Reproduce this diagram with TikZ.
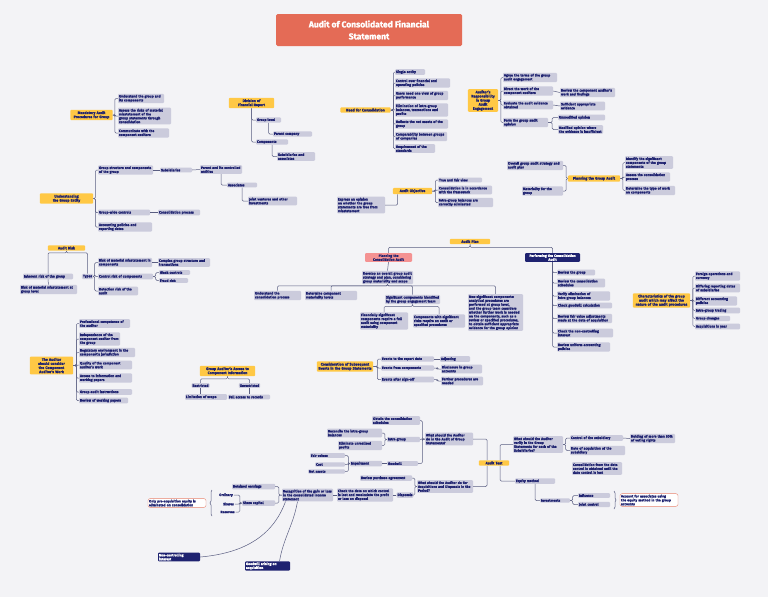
\documentclass[tikz,border=0pt]{standalone}
\usepackage{fontspec}
\setmainfont{Fira Sans}[BoldFeatures={FakeBold=1.5}]
\usetikzlibrary{decorations.pathreplacing}
\definecolor{bgGray}{HTML}{F3F3F6}
\definecolor{navyInk}{HTML}{1E2270}
\definecolor{leafGray}{HTML}{CBCBDC}
\definecolor{topicYellow}{HTML}{FFC845}
\definecolor{titleRed}{HTML}{E46B56}
\definecolor{pinkFill}{HTML}{F49292}
\definecolor{lineGray}{HTML}{5A5E82}
\definecolor{redEdge}{HTML}{E88470}
\newcommand\nohyph{\hyphenpenalty=10000\exhyphenpenalty=10000}

\begin{document}
\begin{tikzpicture}
        [x=1pt, y=-1pt,
        titleBox/.style={fill=titleRed, text=white, rounded corners=1.5pt, font=\fontsize{8.5}{12}\selectfont\bfseries, align=center, minimum width=186pt, minimum height=32pt},
        topic/.style={fill=topicYellow, text=navyInk, rounded corners=1pt, inner sep=1.2pt, font=\fontsize{3.6}{4.1}\selectfont\bfseries\nohyph, align=center},
        leaf/.style={fill=leafGray, text=navyInk, rounded corners=1pt, inner sep=1pt, font=\fontsize{3.4}{3.9}\selectfont\bfseries\nohyph, align=left},
        leafNavy/.style={leaf, fill=navyInk, text=white},
        leafPink/.style={leaf, fill=pinkFill, align=center},
        leafRed/.style={leaf, fill=white, draw=redEdge, line width=0.4pt, rounded corners=2pt},
        leafPlain/.style={leaf, fill=none},
        tw/.style={text width=#1pt},
        link/.style={draw=lineGray, line width=0.5pt, rounded corners=1.2pt},
        curly/.style={draw=lineGray, line width=0.5pt, decorate, decoration={brace, amplitude=2pt}}]
        \fill[bgGray] (0,0) rectangle (768,597);
        \useasboundingbox (0,0) rectangle (768,597);

        \node[titleBox] (title) at (369,30) {Audit of Consolidated Financial\\Statement};

        % mandatory procedures
        \node[topic, tw=40] (tA) at (91.5,115) {Mandatory Audit Procedures for Group};
        \node[leaf, tw=44] (a1) at (141,98.5) {Understand the group and its components};
        \node[leaf, tw=51] (a2) at (144.5,116) {Assess the risks of material misstatement of the group statements through consolidation};
        \node[leaf, tw=49] (a3) at (143.5,133) {Communicate with the component auditors};
        \foreach \c in {a1,a2,a3} \draw[link] (tA.east) -- ++(2,0) |- (\c.west);

        % division of report
        \node[topic, tw=43] (tB) at (251.5,103) {Division of Financial Report};
        \node[leaf, tw=23] (b1) at (268.5,120) {Group level};
        \node[leaf, tw=37] (b2) at (292.5,134) {Parent company};
        \node[leaf, tw=30] (b3) at (272,142) {Components};
        \node[leaf, tw=36] (b4) at (296,156.5) {Subsidiaries and associates};
        \draw[link] (tB.south) |- (b1.west);
        \draw[link] (tB.south) |- (b3.west);
        \draw[link] (b1.south) |- (b2.west);
        \draw[link] (b3.south) |- (b4.west);

        % reasons
        \node[topic, tw=48] (tC) at (365.5,110) {Need for Consolidation};
        \node[leaf, tw=28] (c1) at (410,72) {Single entity};
        \node[leaf, tw=53] (c2) at (422.5,83) {Control over financial and operating policies};
        \node[leaf, tw=51] (c3) at (421.5,95.5) {Users need one view of group performance};
        \node[leaf, tw=51] (c4) at (421.5,110) {Elimination of intra-group balances, transactions and profits};
        \node[leaf, tw=51] (c5) at (421.5,124) {Reflects the net assets of the group};
        \node[leaf, tw=50] (c6) at (421,136.5) {Comparability between groups of companies};
        \node[leaf, tw=38] (c7) at (415,148.5) {Requirement of the standards};
        \foreach \c in {c1,c2,c3,c4,c5,c6,c7} \draw[link] (tC.east) -- ++(2.5,0) |- (\c.west);

        % responsibility
        \node[topic, tw=28] (tD) at (483,100.5) {Auditor's\\Responsibility\\in Group\\Audit\\Engagement};
        \node[leaf, tw=52] (d1) at (530,77.5) {Agree the terms of the group audit engagement};
        \node[leaf, tw=48] (d2) at (528,91) {Direct the work of the component auditors};
        \node[leaf, tw=53] (d2a) at (587.5,92.5) {Review the component auditor's work and findings};
        \node[leaf, tw=48] (d3) at (528,105) {Evaluate the audit evidence obtained};
        \node[leaf, tw=43] (d3a) at (582.5,106) {Sufficient appropriate evidence};
        \node[leaf, tw=43] (d4) at (525.5,122.5) {Form the group audit opinion};
        \node[leaf, tw=45] (d4a) at (581.5,117.5) {Unmodified opinion};
        \node[leaf, tw=43] (d4b) at (580.5,129.5) {Modified opinion where the evidence is insufficient};
        \foreach \c in {d1,d2,d3,d4} \draw[link] (tD.east) -- ++(2.5,0) |- (\c.west);
        \draw[link] (d2.east) -- (d2a.west);
        \draw[link] (d3.east) -- (d3a.west);
        \foreach \c in {d4a,d4b} \draw[link] (d4.east) -- ++(4,0) |- (\c.west);

        % planning
        \node[topic, tw=50] (tE) at (594,178.5) {Planning the Group Audit};
        \node[leaf, tw=54] (e1) at (535,165.5) {Overall group audit strategy and audit plan};
        \node[leaf, tw=39] (e2) at (542.5,191) {Materiality for the group};
        \node[leaf, tw=46] (e3) at (649,162.5) {Identify the significant components of the group statements};
        \node[leaf, tw=43] (e4) at (647.5,177) {Assess the consolidation process};
        \node[leaf, tw=48] (e5) at (650,190.5) {Determine the type of work on components};
        \foreach \c in {e1,e2} \draw[link] (\c.east) -- ++(3,0) |- (tE.west);
        \foreach \c in {e3,e4,e5} \draw[link] (tE.east) -- ++(2.5,0) |- (\c.west);

        % objective
        \node[topic, tw=37] (tF) at (412.5,191) {Audit Objective};
        \node[leaf, tw=42] (f1) at (460,180) {True and fair view};
        \node[leaf, tw=52] (f2) at (465,190) {Consolidation is in accordance with the framework};
        \node[leaf, tw=53] (f3) at (465.5,202.5) {Intra-group balances are correctly eliminated};
        \node[leaf, tw=46] (f0) at (361,205) {Express an opinion on whether the group statements are free from misstatement};
        \foreach \c in {f1,f2,f3} \draw[link] (tF.east) -- ++(3,0) |- (\c.west);
        \draw[link] (f0.east) -| ([xshift=5pt]tF.south west);

        % understanding the group
        \node[topic, tw=51] (tG) at (66.5,198.5) {Understanding the Group Entity};
        \node[leaf, tw=53] (g1) at (125.5,170) {Group structure and components of the group};
        \node[leaf, tw=30] (g1a) at (176,170) {Subsidiaries};
        \node[leaf, tw=40] (g1b) at (221,169.5) {Parent and its controlled entities};
        \node[leaf, tw=28] (g1c) at (242,185) {Associates};
        \node[leaf, tw=47] (g1d) at (272.5,201) {Joint ventures and other investments};
        \node[leaf, tw=50] (g2) at (124,212.5) {Group-wide controls};
        \node[leaf, tw=40] (g2a) at (179,212.5) {Consolidation process};
        \node[leaf, tw=52] (g3) at (125,227) {Accounting policies and reporting dates};
        \foreach \c in {g1,g2,g3} \draw[link] (tG.east) -- ++(2,0) |- (\c.west);
        \draw[link] (g1.east) -- (g1a.west);
        \draw[link] (g1a.east) -- (g1b.west);
        \draw[link] (g1b.south) |- (g1c.west);
        \draw[link] (g1c.south) |- (g1d.west);
        \draw[link] (g2.east) -- (g2a.west);

        % risk
        \node[topic, tw=35] (tH) at (66.5,248) {Audit Risk};
        \node[leaf, tw=48] (h1) at (48,276.5) {Inherent risk of the group};
        \node[leaf, tw=55] (h1a) at (48.5,289.5) {Risk of material misstatement at group level};
        \node[leaf] (h2) at (87.5,276.5) {Types};
        \node[leaf, tw=52] (h3) at (125,262.5) {Risk of material misstatement in components};
        \node[leaf, tw=50] (h3a) at (184,262.5) {Complex group structure and transactions};
        \node[leaf, tw=53] (h4) at (125.5,276.5) {Control risk of components};
        \node[leaf, tw=29] (h4a) at (174.5,272.5) {Weak controls};
        \node[leaf, tw=27] (h4b) at (173.5,280.5) {Fraud risk};
        \node[leaf, tw=38] (h5) at (118,291) {Detection risk of the audit};
        \draw[link] (tH.south) -- ++(0,2) -| (h1.north);
        \draw[link] (tH.south) -- ++(0,2) -| (h2.north);
        \draw[link] (h1.south) -- (h1a.north);
        \foreach \c in {h3,h4,h5} \draw[link] (h2.east) -- ++(1.5,0) |- (\c.west);
        \draw[link] (h3.east) -- (h3a.west);
        \foreach \c in {h4a,h4b} \draw[link] (h4.east) -- ++(2.5,0) |- (\c.west);

        % audit plan
        \node[topic, tw=38] (tI) at (470,241.5) {Audit Plan};
        \node[leafPink, tw=45] (iP) at (388.5,257.5) {Planning the Consolidation Audit};
        \node[leafNavy, tw=53, align=center] (iN) at (552.5,257.5) {Performing the Consolidation\\Audit};
        \draw[link] (tI.south) -- ++(0,3) -| (iP.north);
        \draw[link] (tI.south) -- ++(0,3) -| (iN.north);
        \node[leaf, tw=49] (iP1) at (387.5,277.5) {Develop an overall group audit strategy and plan, considering group materiality and scope};
        \draw[link] (iP.south) -- (iP1.north);
        \node[leaf, tw=45] (i1) at (277.5,295.5) {Understand the consolidation process};
        \node[leaf, tw=50] (i2) at (331,295.5) {Determine component materiality levels};
        \node[leaf, tw=53] (i3) at (412.5,299.5) {Significant components identified by the group engagement team};
        \node[leaf, tw=53] (i4) at (495.5,312.5) {Non-significant components: analytical procedures are performed at group level, and the group team considers whether further work is needed on the components, such as a review or specified procedures, to obtain sufficient appropriate evidence for the group opinion};
        \node[leaf, tw=46] (i3a) at (384,321) {Financially significant components require a full audit using component materiality};
        \node[leaf, tw=50] (i3b) at (439,321) {Components with significant risks require an audit or specified procedures};
        \foreach \c in {i1,i2,i3,i4} \draw[link] (iP1.south) -- ++(0,1.5) -| (\c.north);
        \foreach \c in {i3a,i3b} \draw[link] (i3.south) -- ++(0,2) -| (\c.north);
        \node[leaf, tw=36] (n1) at (576,272.5) {Review the group};
        \node[leaf, tw=46] (n2) at (581,283) {Review the consolidation schedules};
        \node[leaf, tw=51] (n3) at (583.5,296) {Verify elimination of intra-group balances};
        \node[leaf, tw=53] (n4) at (584.5,305.5) {Check goodwill calculation};
        \node[leaf, tw=53] (n5) at (584.5,318.5) {Review fair value adjustments made at the date of acquisition};
        \node[leaf, tw=54] (n6) at (585,333) {Check the non-controlling interest};
        \node[leaf, tw=51] (n7) at (583.5,347) {Review uniform accounting policies};
        \foreach \c in {n1,n2,n3,n4,n5,n6,n7} \draw[link] (iN.south) |- (\c.west);

        % characteristics
        \node[topic, tw=55] (tJ) at (661.5,300.5) {Characteristics of the group audit which may affect the nature of the audit procedures};
        \node[leaf, tw=43] (j1) at (717.5,276) {Foreign operations and currency};
        \node[leaf, tw=43] (j2) at (717.5,288) {Differing reporting dates of subsidiaries};
        \node[leaf, tw=40] (j3) at (716,301) {Different accounting policies};
        \node[leaf, tw=43] (j4) at (717.5,310.5) {Intra-group trading};
        \node[leaf, tw=33] (j5) at (712.5,318.5) {Group changes};
        \node[leaf, tw=43] (j6) at (717.5,326.5) {Acquisitions in year};
        \foreach \c in {j1,j2,j3,j4,j5,j6} \draw[link] (tJ.east) -- ++(2.5,0) |- (\c.west);

        % component auditor
        \node[topic, tw=41] (tK) at (51.5,365.5) {The Auditor\\should consider\\the Component\\Auditor's Work};
        \node[leaf, tw=49] (k1) at (104.5,323.5) {Professional competence of the auditor};
        \node[leaf, tw=39] (k2) at (99.5,339) {Independence of the component auditor from the group};
        \node[leaf, tw=54] (k3) at (107,352.5) {Regulatory environment in the component's jurisdiction};
        \node[leaf, tw=51] (k4) at (105.5,365) {Quality of the component auditor's work};
        \node[leaf, tw=51] (k5) at (105.5,378) {Access to information and working papers};
        \node[leaf, tw=51] (k6) at (105.5,392) {Group audit instructions};
        \node[leaf, tw=47] (k7) at (103.5,400.5) {Review of working papers};
        \foreach \c in {k1,k2,k3,k4,k5,k6,k7} \draw[link] (tK.east) -- ++(3,0) |- (\c.west);

        % access
        \node[topic, tw=53] (tL) at (227.5,371) {Group Auditor's Access to Component Information};
        \node[leaf] (l1) at (200.5,385.5) {Restricted};
        \node[leaf] (l2) at (249.5,385.5) {Unrestricted};
        \node[leaf, tw=40] (l1a) at (206,397) {Limitation of scope};
        \node[leaf, tw=40] (l2a) at (249,397) {Full access to records};
        \draw[link] (tL.south) -- ++(0,2.5) -| (l1.north);
        \draw[link] (tL.south) -- ++(0,2.5) -| (l2.north);
        \draw[link] (l1.south) -- (l1.south |- l1a.north);
        \draw[link] (l2.south) -- (l2.south |- l2a.north);

        % subsequent events
        \node[topic, tw=54] (tM) at (345,366.5) {Consideration of Subsequent Events in the Group Statements};
        \node[leaf, tw=51] (m1) at (407.5,359) {Events to the report date};
        \node[leaf, tw=28] (m1a) at (455,359) {Adjusting};
        \node[leaf, tw=51] (m2) at (407.5,368) {Events from components};
        \node[leaf, tw=39] (m2a) at (461.5,369) {Disclosure in group accounts};
        \node[leaf, tw=51] (m3) at (407.5,379.5) {Events after sign-off};
        \node[leaf, tw=40] (m3a) at (462,381) {Further procedures are needed};
        \foreach \c in {m1,m2,m3} \draw[link] (tM.east) -- ++(4,0) |- (\c.west);
        \draw[link] (m1.east) -- (m1a.west);
        \draw[link] (m2.east) -- ++(3,0) |- (m2a.west);
        \draw[link] (m3.east) -- ++(3,0) |- (m3a.west);

        % audit test
        \node[topic, tw=28] (tN) at (494,463) {Audit Test};
        \node[leaf, tw=46] (nL1) at (449,439) {What should the Auditor do in the Audit of Group Statements?};
        \node[leaf, tw=54] (nL2) at (445,486.5) {What should the Auditor do for Acquisitions and Disposals in the Period?};
        \node[leaf, tw=48] (nR1) at (538,444.5) {What should the Auditor verify in the Group Statements for each of the Subsidiaries?};
        \node[leaf, tw=38] (nR2) at (535,481) {Equity method};
        \draw[link] (nL1.east) -| ([xshift=-7pt]tN.north);
        \draw[link] (nL2.east) -| ([xshift=-7pt]tN.south);
        \draw[link] (nR1.west) -| ([xshift=6pt]tN.north);
        \draw[link] (nR2.west) -| ([xshift=6pt]tN.south);

        \node[leaf, tw=46] (nL1a) at (396,420.5) {Obtain the consolidation schedules};
        \node[leaf, tw=31] (nL1b) at (403.5,439.5) {Intra-group};
        \node[leaf, tw=29] (nL1c) at (402.5,463.5) {Goodwill};
        \foreach \c in {nL1a,nL1b,nL1c} \draw[link] (nL1.west) -- ++(-2.5,0) |- (\c.east);
        \node[leaf, tw=53] (nL1b1) at (354.5,433) {Reconcile the intra-group balances};
        \node[leaf, tw=42] (nL1b2) at (360,445.5) {Eliminate unrealised profits};
        \foreach \c in {nL1b1,nL1b2} \draw[link] (nL1b.west) -- ++(-2,0) |- (\c.east);
        \node[leaf, tw=30] (nL1c1) at (366,463.5) {Impairment};
        \draw[link] (nL1c.west) -- (nL1c1.east);
        \node[leaf, tw=33] (nL1c1a) at (327.5,455.5) {Fair values};
        \node[leaf, tw=28] (nL1c1b) at (330,464.5) {Cost};
        \node[leaf, tw=35] (nL1c1c) at (326.5,471.5) {Net assets};
        \foreach \c in {nL1c1a,nL1c1b,nL1c1c} \draw[link] (nL1c1.west) -- ++(-1.5,0) |- (\c.east);

        \node[leaf, tw=50] (nL2a) at (386,478) {Review purchase agreement};
        \node[leaf] (nL2b) at (405,495) {Disposals};
        \foreach \c in {nL2a,nL2b} \draw[link] (nL2.west) -- ++(-2,0) |- (\c.east);
        \node[leaf, tw=54] (nL2b1) at (365,495) {Check the date on which control is lost and recalculate the profit or loss on disposal};
        \node[leaf, tw=49] (nL2b2) at (307.5,495) {Recognition of the gain or loss in the consolidated income statement};
        \draw[link] (nL2b.west) -- (nL2b1.east);
        \draw[link] (nL2b1.west) -- (nL2b2.east);
        \node[leaf, tw=41] (q1) at (253.5,486.5) {Retained earnings};
        \node[leaf, tw=31] (q2) at (258.5,503) {Share capital};
        \foreach \c in {q1,q2} \draw[link] (nL2b2.west) -- ++(-3,0) |- (\c.east);
        \node[leafPlain] (q2a) at (226,495) {Ordinary};
        \node[leafPlain] (q2b) at (228.5,504) {Shares};
        \node[leafPlain] (q2c) at (227.5,512) {Reserves};
        \foreach \c in {q2a,q2b,q2c} \draw[link] (q2.west) -- ++(-2,0) |- (\c.east);
        \draw[curly] (212,516) -- (212,490);
        \node[leafRed, tw=56] (rq) at (177,503) {Only pre-acquisition equity is eliminated on consolidation};
        \node[leafNavy, tw=40] (nv1) at (179,557) {Non-controlling\\interest};
        \node[leafNavy, tw=43] (nv2) at (267.5,566) {Goodwill arising on acquisition};
        \draw[link] ([xshift=-22pt]nL2b2.south) to[out=250, in=5] (nv1.east);
        \draw[link] ([xshift=-10pt]nL2b2.south) to[out=260, in=80] ([xshift=12pt]nv2.north);

        \node[leaf, tw=51] (nR1a) at (596.5,438) {Control of the subsidiary};
        \node[leaf, tw=43] (nR1a1) at (652.5,438.5) {Holding of more than 50\% of voting rights};
        \node[leaf, tw=53] (nR1b) at (597.5,450.5) {Date of acquisition of the subsidiary};
        \node[leaf, tw=48] (nR1c) at (597,468.5) {Consolidation from the date control is obtained until the date control is lost};
        \foreach \c in {nR1a,nR1b} \draw[link] (nR1.east) -- ++(2.5,0) |- (\c.west);
        \draw[link] (nR1a.east) -- (nR1a1.west);
        \node[leaf, tw=28] (nR2a) at (555,500.5) {Investments};
        \draw[link] (nR2.south) |- (nR2a.west);
        \node[leaf, tw=30] (nR2a1) at (594,495.5) {Influence};
        \node[leaf, tw=30] (nR2a2) at (594,504.5) {Joint control};
        \foreach \c in {nR2a1,nR2a2} \draw[link] (nR2a.east) -- ++(2.5,0) |- (\c.west);
        \draw[curly] (614,491) -- (614,509);
        \node[leafRed, tw=56] (rn) at (649,500) {Account for associates using the equity method in the group accounts};
\end{tikzpicture}
\end{document}
